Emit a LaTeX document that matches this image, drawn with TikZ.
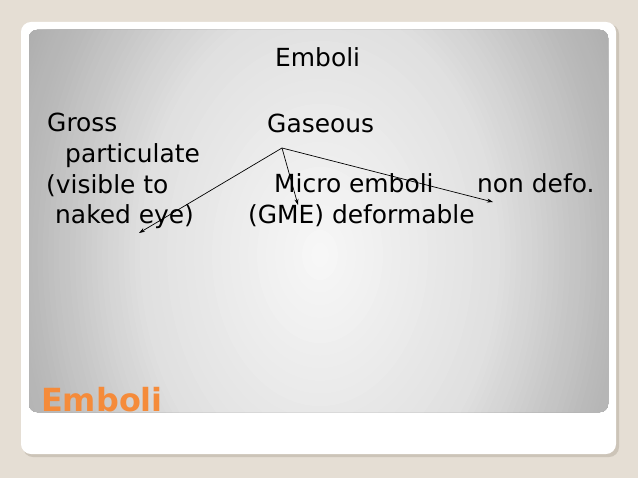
\documentclass[tikz,border=0pt]{standalone}
\usepackage{fontspec}
\setmainfont{DejaVu Sans}
\usetikzlibrary{positioning,arrows.meta}

\definecolor{slidebg}{HTML}{E5DED4}
\definecolor{cardshadow}{HTML}{CCC4B8}
\definecolor{panelhi}{HTML}{F8F8F8}
\definecolor{panelmid}{HTML}{E0E0E0}
\definecolor{panelside}{HTML}{BABABA}
\definecolor{panello}{HTML}{A8A8A8}
\definecolor{headorange}{HTML}{F58B3A}

\tikzset{
  txt/.style={font=\fontsize{25}{30}\selectfont, inner sep=0pt, anchor=base west},
  heading/.style={font=\fontsize{32}{38}\selectfont\bfseries, text=headorange, inner sep=0pt, anchor=base west}
}

\begin{document}
\begin{tikzpicture}[x=1bp,y=-1bp,>={Stealth[length=6bp,width=4bp]}]

  % slide background and card
  \fill[slidebg] (0,0) rectangle (638,478);
  \useasboundingbox (0,0) rectangle (638,478);
  \fill[cardshadow, rounded corners=10] (23,24) rectangle (619,457);
  \fill[white, rounded corners=10] (21,22) rectangle (616,454);
  \begin{scope}
    \clip[rounded corners=8] (29,30) rectangle (608,412);
    \fill[panello] (29,30) rectangle (608,412);
    % glow rings, outside in
    \foreach \ta/\tb/\ca/\cb in {1.20/0.96/panello/panelside, 0.96/0.60/panelside/panelmid, 0.60/0.0/panelmid/panelhi}
      \foreach \k in {0,...,19} {
        \pgfmathsetmacro\t{\ta+(\tb-\ta)*\k/20}
        \pgfmathsetmacro\p{100*\k/20}
        \fill[\cb!\p!\ca] (320,255) ellipse [x radius=300*\t, y radius=420*\t];
      }
  \end{scope}

  \node[txt] (emboli) at (275,67) {Emboli};
  \node[txt] (gas) at (267,133) {Gaseous};

  \node[txt] (gross) at (47,132) {Gross};
  \node[txt] (partic) at ([xshift=18bp,yshift=-31bp]gross.base west) {particulate};
  \node[txt] (visible) at ([xshift=-19bp,yshift=-30bp]partic.base west) {(visible to};
  \node[txt] (naked) at ([xshift=9bp,yshift=-30bp]visible.base west) {naked eye)};

  \node[txt] (micro) at (274,193) {Micro emboli};
  \node[txt] (nondef) at (477,193) {non defo.};
  \node[txt] (gme) at (248,224) {(GME) deformable};

  \node[heading] (title) at (41,411) {Emboli};

  \coordinate (split) at (282,148);
  \coordinate (grosstip) at (139,233);
  \coordinate (gmetip) at (298,205);
  \coordinate (nondeftip) at (493,202);

  \draw[->, line width=0.7bp] (split) -- (grosstip);
  \draw[->, line width=0.7bp] (split) -- (gmetip);
  \draw[->, line width=0.7bp] (split) -- (nondeftip);

\end{tikzpicture}
\end{document}
